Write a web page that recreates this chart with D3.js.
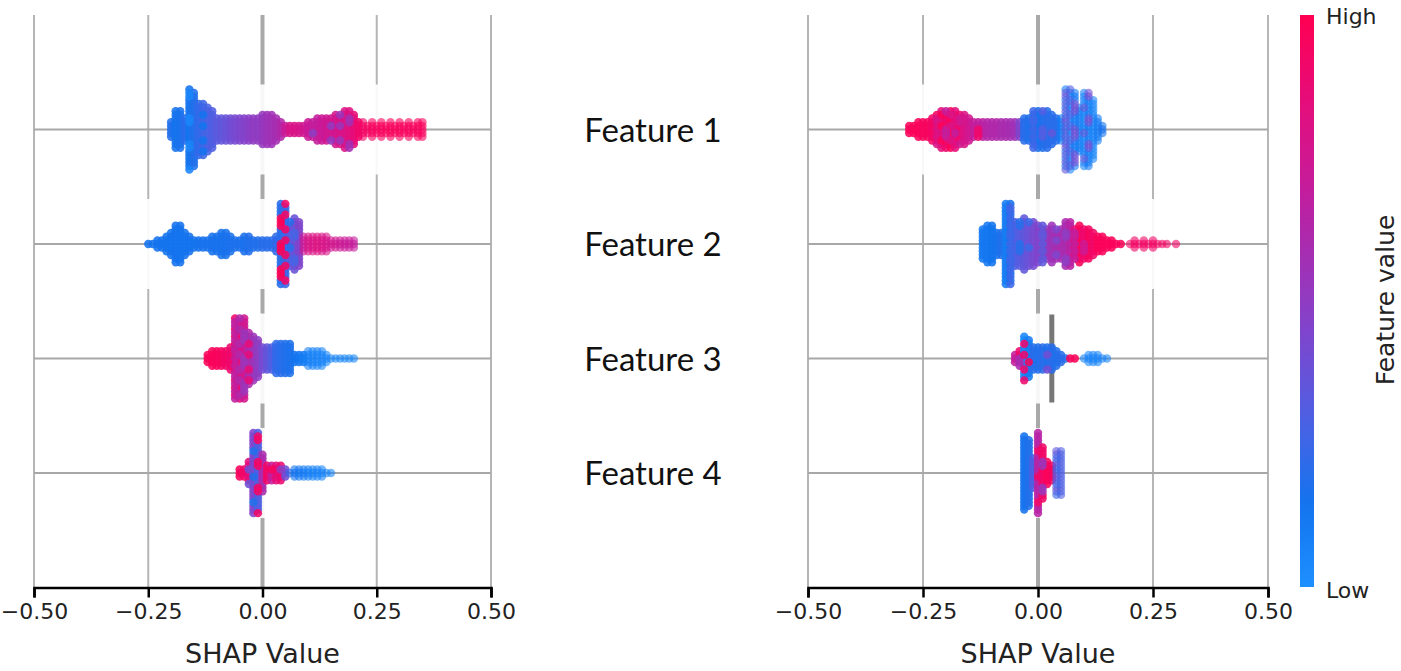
<!DOCTYPE html>
<html>
<head>
<meta charset="utf-8">
<script src="https://cdn.jsdelivr.net/npm/d3@7"></script>
<style>
  html, body { margin: 0; padding: 0; background: #ffffff; }
  svg { display: block; }
</style>
</head>
<body>
<script>
// ---------------- DATA ----------------
const features = ["Feature 1", "Feature 2", "Feature 3", "Feature 4"];
const tickValues = [-0.5, -0.25, 0, 0.25, 0.5];
const axisTitle = "SHAP Value";
const colorbarTitle = "Feature value";
const colorbarLabels = ["High", "Low"];
// colour map stops (low -> high)
const colorStops = ["#1e90ff", "#1274ee", "#4a62e4", "#7a48d0", "#a32fb4", "#c81a98", "#e60c78", "#ff0052"];

// Each column: [SHAP value, dots stacked on each side, feature value (0 low .. 1 high), optional mixed feature value]
const leftFeature1 = [
  [-0.20,2,.18],[-0.19,5,.15],[-0.18,5,.16],[-0.17,3,.2],[-0.16,11,.15,.06],[-0.15,10,.18,.1],
  [-0.14,7,.22],[-0.13,7,.25,.15],[-0.12,6,.28],[-0.11,5,.3],[-0.10,3,.33],[-0.09,3,.35],
  [-0.08,3,.37],[-0.07,3,.4],[-0.06,3,.42],[-0.05,3,.44],[-0.04,3,.46],[-0.03,3,.48],
  [-0.02,3,.5],[-0.01,3,.5],[0.00,4,.52],[0.01,4,.55],[0.02,4,.56],[0.03,3,.58],
  [0.04,2,.62],[0.05,1,.72],[0.06,1,.78],[0.07,1,.8],[0.08,1,.78],[0.09,1,.75],
  [0.10,2,.72],[0.11,2,.7,.5],[0.12,3,.7],[0.13,3,.72,.5],[0.14,3,.74],[0.15,3,.75,.52],
  [0.16,4,.76],[0.17,4,.78,.55],[0.18,5,.8],[0.19,5,.82,.58],[0.20,4,.85],[0.21,2,.9],
  [0.22,2,.93],[0.23,1,.94],[0.24,2,.95],[0.25,1,.95],[0.26,2,.96],[0.27,1,.96],
  [0.28,2,.96],[0.29,1,.96],[0.30,2,.96],[0.31,1,.96],[0.32,2,.96],[0.33,1,.96],
  [0.34,2,.96],[0.35,2,.96]
];
const leftFeature2 = [
  [-0.25,0,.15],[-0.24,0,.15],[-0.23,1,.15],[-0.22,1,.15],[-0.21,2,.15],[-0.20,3,.15],
  [-0.19,5,.15],[-0.18,5,.15],[-0.17,3,.15],[-0.16,2,.15],[-0.15,1,.15],[-0.14,1,.15],
  [-0.13,1,.16],[-0.12,1,.16],[-0.11,2,.16],[-0.10,2,.16],[-0.09,3,.16],[-0.08,3,.16],
  [-0.07,2,.17],[-0.06,1,.17],[-0.05,1,.17],[-0.04,2,.17],[-0.03,2,.18],[-0.02,1,.18],
  [-0.01,1,.18],[0.00,1,.2],[0.01,1,.2],[0.02,1,.2],[0.03,2,.22],[0.04,11,.2,.98],
  [0.05,11,.24,.92],[0.06,6,.32,.2],[0.07,7,.38,.28],[0.08,6,.45],[0.09,2,.72],
  [0.10,2,.78],[0.11,2,.8],[0.12,2,.82],[0.13,2,.8],[0.14,2,.78],[0.15,1,.76],
  [0.16,1,.75],[0.17,1,.74],[0.18,1,.72],[0.19,1,.72],[0.20,1,.7]
];
const leftFeature3 = [
  [-0.12,1,.97],[-0.11,2,.97],[-0.10,2,.96],[-0.09,2,.95],[-0.08,2,.93],[-0.07,3,.9],
  [-0.06,11,.92,.68],[-0.05,11,.85,.62],[-0.04,11,.75,.55],[-0.03,7,.62,.85],[-0.02,6,.55],
  [-0.01,5,.5],[0.00,3,.42],[0.01,3,.36],[0.02,3,.3],[0.03,4,.22],[0.04,4,.2],
  [0.05,4,.18],[0.06,4,.17],[0.07,1,.15],[0.08,1,.12],[0.09,1,.1],[0.10,2,.08],
  [0.11,2,.07],[0.12,2,.06],[0.13,2,.05],[0.14,1,.05],[0.15,0,.04],[0.16,0,.04],
  [0.17,0,.04],[0.18,0,.04],[0.19,0,.04],[0.20,0,.04]
];
const leftFeature4 = [
  [-0.05,1,.96],[-0.04,1,.92],[-0.03,3,.85,.4],[-0.02,11,.45,.18],[-0.01,11,.3,.92],
  [0.00,5,.6,.96],[0.01,2,.92],[0.02,2,.7,.96],[0.03,2,.85],[0.04,2,.9,.5],
  [0.05,1,.4],[0.06,0,.2],[0.07,1,.15],[0.08,1,.12],[0.09,1,.1],[0.10,1,.08],
  [0.11,1,.07],[0.12,1,.06],[0.13,1,.05],[0.14,0,.05],[0.15,0,.05]
];

const rightFeature1 = [
  [-0.28,1,.97],[-0.27,1,.97],[-0.26,2,.97],[-0.25,2,.95],[-0.24,2,.95],[-0.23,3,.93,.75],
  [-0.22,4,.95,.8],[-0.21,5,.85,.97],[-0.20,5,.9,.7],[-0.19,5,.97,.8],[-0.18,5,.85,.7],
  [-0.17,4,.9,.75],[-0.16,4,.8],[-0.15,3,.75],[-0.14,2,.7],[-0.13,2,.68,.9],[-0.12,2,.66],
  [-0.11,2,.64],[-0.10,2,.62],[-0.09,2,.62],[-0.08,2,.6],[-0.07,2,.6],[-0.06,2,.58],
  [-0.05,2,.56],[-0.04,2,.45],[-0.03,3,.2],[-0.02,3,.18],[-0.01,5,.15,.25],[0.00,5,.15],
  [0.01,5,.18,.3],[0.02,5,.2],[0.03,4,.2,.35],[0.04,3,.2],[0.05,3,.1],[0.06,11,.08,.35],
  [0.07,11,.05,.3],[0.08,10,.1,.4],[0.09,6,.1],[0.10,10,.05,.35],[0.11,10,.1,.4],
  [0.12,8,.05,.3],[0.13,3,.1],[0.14,1,.15]
];
const rightFeature2 = [
  [-0.12,4,.12],[-0.11,5,.12],[-0.10,5,.14],[-0.09,3,.15],[-0.08,3,.18],[-0.07,11,.1,.2],
  [-0.06,11,.15,.25],[-0.05,6,.3],[-0.04,6,.32,.2],[-0.03,7,.35],[-0.02,6,.38,.25],
  [-0.01,6,.42],[0.00,5,.45],[0.01,5,.5,.35],[0.02,4,.52],[0.03,5,.55],[0.04,4,.58,.45],
  [0.05,4,.6],[0.06,6,.6,.5],[0.07,6,.65],[0.08,4,.85,.7],[0.09,5,.97],[0.10,4,.9,.75],
  [0.11,4,.95],[0.12,3,.92],[0.13,2,.97],[0.14,2,.97],[0.15,1,.97],[0.16,1,.97],
  [0.17,0,.97],[0.18,0,.97],[0.20,0,.93],[0.21,1,.93],[0.22,0,.93],[0.23,1,.93],
  [0.24,0,.93],[0.25,1,.93],[0.26,0,.93],[0.27,0,.93],[0.28,0,.93],[0.30,0,.93]
];
const rightFeature3 = [
  [-0.05,1,.7],[-0.04,2,.9,.6],[-0.03,6,.05,.9],[-0.02,5,.1,.95],[-0.01,3,.2],
  [0.00,3,.18],[0.01,3,.2],[0.02,3,.18,.4],[0.03,3,.2],[0.04,2,.18],[0.05,1,.2],
  [0.06,0,.2],[0.07,0,.97],[0.08,0,.97],[0.10,0,.05],[0.11,1,.05],[0.12,1,.05],
  [0.13,1,.05],[0.14,0,.05],[0.15,0,.05]
];
const rightFeature4 = [
  [-0.03,10,.15],[-0.02,9,.18],[-0.01,4,.3],[0.00,11,.65,.92],[0.01,7,.92,.55],
  [0.02,3,.97],[0.03,2,.95],[0.04,6,.35,.25],[0.05,6,.3]
];

// Zero line of the pasted Feature 3 panel on the right sits slightly off 0
const shiftedZeroLines = [{ panel: 1, feature: 2, value: 0.03 }];
// SHAP ranges whose points look washed out in the picture
const fadedRanges = [
  { panel: 0, feature: 0, from: 0.215, to: 0.36 },
  { panel: 0, feature: 1, from: 0.085, to: 0.21 },
  { panel: 0, feature: 2, from: 0.095, to: 0.21 },
  { panel: 0, feature: 3, from: 0.055, to: 0.16 },
  { panel: 1, feature: 0, from: 0.045, to: 0.15 },
  { panel: 1, feature: 1, from: 0.185, to: 0.31 },
  { panel: 1, feature: 2, from: 0.095, to: 0.16 },
  { panel: 1, feature: 3, from: 0.035, to: 0.06 }
];

const leftRows = [leftFeature1, leftFeature2, leftFeature3, leftFeature4];
const rightRows = [rightFeature1, rightFeature2, rightFeature3, rightFeature4];

// ---------------- CHART ----------------
const W = 1401, H = 671;
const svg = d3.select("body").append("svg").attr("width", W).attr("height", H);

const y = d3.scaleLinear().domain([0, 5]).range([587.5, 15]);
const rowY = i => y(features.length - i);
const color = d3.scaleSequential(d3.piecewise(d3.interpolateRgb, colorStops)).domain([0, 1]);

const panels = [
  { x: d3.scaleLinear().domain([-0.5, 0.5]).range([34, 491]), rows: leftRows },
  { x: d3.scaleLinear().domain([-0.5, 0.5]).range([808, 1268]), rows: rightRows }
];

const R = 4.2, STEP = 3.65, HALF = 45;

panels.forEach((p, pi) => {
  const g = svg.append("g");
  const x = p.x;
  // vertical grid lines
  g.selectAll("line.grid").data(tickValues).join("line")
    .attr("x1", d => x(d)).attr("x2", d => x(d))
    .attr("y1", y(5)).attr("y2", y(0))
    .attr("stroke", d => d === 0 ? "#a9a9a9" : "#b5b5b5")
    .attr("stroke-width", d => d === 0 ? 4 : 2);

  p.rows.forEach((cols, i) => {
    const cy = rowY(i);
    const ext = d3.extent(cols, c => c[0]);
    // white band of the pasted row image
    g.append("rect")
      .attr("x", x(ext[0]) - R - 2).attr("y", cy - HALF)
      .attr("width", x(ext[1]) - x(ext[0]) + 2 * R + 4).attr("height", 2 * HALF)
      .attr("fill", "#ffffff").attr("opacity", 0.9);
    shiftedZeroLines.filter(s => s.panel === pi && s.feature === i).forEach(s => {
      g.append("line")
        .attr("x1", x(s.value)).attr("x2", x(s.value))
        .attr("y1", cy - HALF + 1).attr("y2", cy + HALF - 1)
        .attr("stroke", "#777").attr("stroke-width", 5);
    });
    // row line
    g.append("line")
      .attr("x1", x(-0.5)).attr("x2", x(0.5))
      .attr("y1", cy).attr("y2", cy)
      .attr("stroke", "#a8a8a8").attr("stroke-width", 2.2);
    // dots
    const fades = fadedRanges.filter(f => f.panel === pi && f.feature === i);
    const isFaded = v => fades.some(f => v >= f.from && v <= f.to);
    const base = [], mixed = [];
    cols.forEach((c, ci) => {
      const [v, n, f1, f2] = c;
      for (let k = -n; k <= n; k++) {
        const h = ((k + 23) * 37 + ci * 101 + (k * k) * 13) % 7;
        const alt = f2 !== undefined && h < 2;
        (alt ? mixed : base).push({ v, k, f: alt ? f2 : f1, faded: isFaded(v) });
      }
    });
    g.append("g").selectAll("circle").data(base.concat(mixed)).join("circle")
      .attr("cx", d => x(d.v))
      .attr("cy", d => cy + d.k * STEP)
      .attr("r", R)
      .attr("fill", d => color(d.f))
      .attr("fill-opacity", d => d.faded ? 0.6 : 0.88);
  });

  // bottom axis
  const axis = d3.axisBottom(x).tickValues(tickValues).tickSize(10).tickPadding(6)
    .tickFormat(d3.format(".2f"));
  const ag = svg.append("g").attr("transform", `translate(0,${y(0)})`).call(axis);
  ag.select(".domain").attr("stroke", "#000").attr("stroke-width", 2.5);
  ag.selectAll(".tick line").attr("stroke", "#000").attr("stroke-width", 2.5);
  ag.selectAll(".tick text")
    .attr("font-family", "DejaVu Sans").attr("font-size", 22).attr("fill", "#222");
  svg.append("text")
    .attr("x", (x.range()[0] + x.range()[1]) / 2).attr("y", 663)
    .attr("text-anchor", "middle")
    .attr("font-family", "DejaVu Sans").attr("font-size", 27).attr("fill", "#222")
    .text(axisTitle);
});

// feature labels in the middle
svg.append("g").selectAll("text").data(features).join("text")
  .attr("x", 653).attr("y", (d, i) => rowY(i) + 12)
  .attr("text-anchor", "middle")
  .attr("font-family", "Lato, 'Open Sans', sans-serif").attr("font-size", 33).attr("fill", "#111")
  .text(d => d);

// colorbar
const defs = svg.append("defs");
const grad = defs.append("linearGradient").attr("id", "cb")
  .attr("x1", 0).attr("y1", 1).attr("x2", 0).attr("y2", 0);
d3.range(0, 1.0001, 0.05).forEach(t => {
  grad.append("stop").attr("offset", t).attr("stop-color", color(t));
});
const cbY = d3.scaleLinear().domain([0, 1]).range([587, 15]);
svg.append("rect")
  .attr("x", 1300).attr("y", cbY(1)).attr("width", 14).attr("height", cbY(0) - cbY(1))
  .attr("fill", "url(#cb)");
svg.append("text").attr("x", 1326).attr("y", cbY(1) + 9)
  .attr("font-family", "DejaVu Sans").attr("font-size", 22).attr("fill", "#222")
  .text(colorbarLabels[0]);
svg.append("text").attr("x", 1326).attr("y", cbY(0) + 11)
  .attr("font-family", "DejaVu Sans").attr("font-size", 22).attr("fill", "#222")
  .text(colorbarLabels[1]);
svg.append("text")
  .attr("transform", "translate(1394,300) rotate(-90)")
  .attr("text-anchor", "middle")
  .attr("font-family", "DejaVu Sans").attr("font-size", 25).attr("fill", "#222")
  .text(colorbarTitle);
</script>
</body>
</html>
